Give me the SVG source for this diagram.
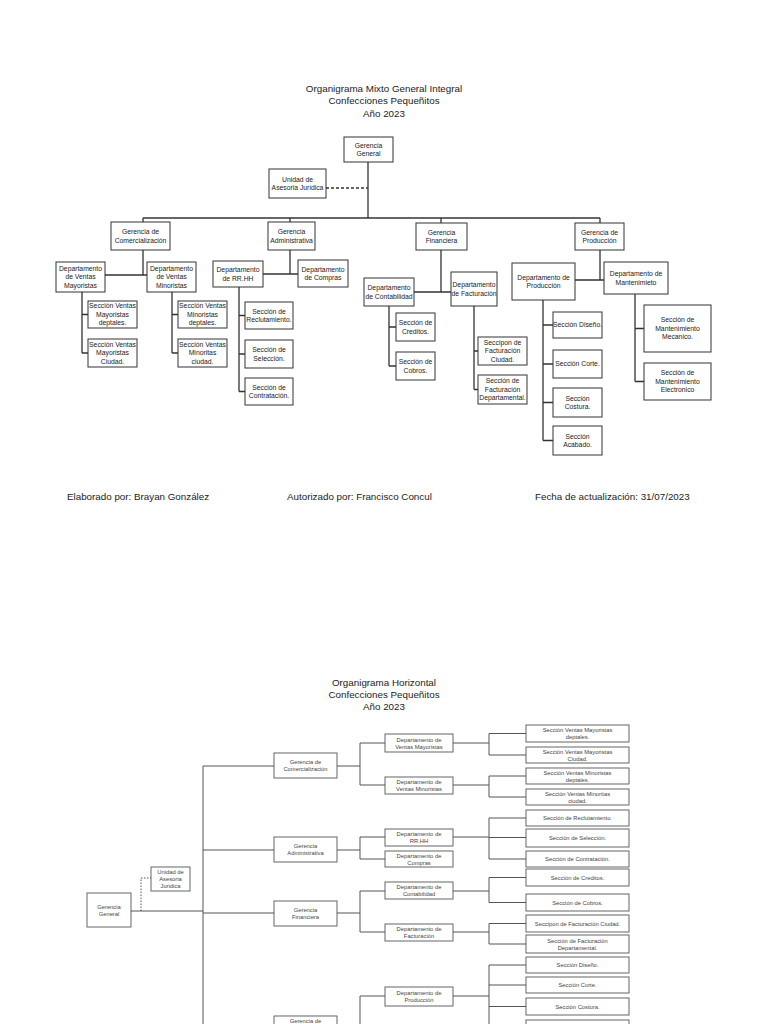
<svg xmlns="http://www.w3.org/2000/svg" width="768" height="1024" viewBox="0 0 768 1024">
<style>
.bg{fill:#fff}
.t{font-family:"Liberation Sans",Arial,sans-serif;fill:#222;text-anchor:middle}
.title{font-size:9.8px}
.foot{font-size:9.8px;text-anchor:start}
.n1 rect{fill:#fff;stroke:#333;stroke-width:1}
.n1 text{font-family:"Liberation Sans",Arial,sans-serif;font-size:6.8px;fill:#222;text-anchor:middle}
.n2 rect{fill:#fff;stroke:#555;stroke-width:0.9}
.n2 text{font-family:"Liberation Sans",Arial,sans-serif;font-size:5.8px;fill:#444;text-anchor:middle}
.c1 path{fill:none;stroke:#333;stroke-width:1.3}
.c2 path{fill:none;stroke:#555;stroke-width:1}
.dash1{stroke-dasharray:3 2}
.dot2{stroke-dasharray:1.5 1.5}
</style>
<rect class="bg" x="0" y="0" width="768" height="1024"/>

<g id="title-top">
<text class="t title" x="384" y="92">Organigrama Mixto General Integral</text>
<text class="t title" x="384" y="104">Confecciones Pequeñitos</text>
<text class="t title" x="384" y="117">Año 2023</text>
</g>

<g id="connectors-top" class="c1">
<path d="M368 162V218"/>
<path class="dash1" d="M326 188H368"/>
<path d="M143 218H600"/>
<path d="M143 218V275M105 275H147"/>
<path d="M82 292V353M82 314.5H88M82 353H88"/>
<path d="M172 292V353M172 314.5H178M172 353H178"/>
<path d="M290 218V274M263 274H298"/>
<path d="M239 287V391.5M239 315.5H245M239 354H245M239 391.5H245"/>
<path d="M441 218V292M414 292H451"/>
<path d="M389 306V366M389 327H396M389 366H396"/>
<path d="M474 306V389.5M474 351H478M474 389.5H478"/>
<path d="M600 218V280M575 280H604"/>
<path d="M543 300V440.5M543 325H553M543 364H553M543 402.5H553M543 440.5H553"/>
<path d="M635 294V381.5M635 328.5H644M635 381.5H644"/>
</g>

<g id="top-gg" class="n1"><rect x="344" y="137" width="49" height="25"/><text x="368.5" y="147.5">Gerencia</text><text x="368.5" y="156">General</text></g>
<g id="top-uaj" class="n1"><rect x="269" y="169" width="57" height="29"/><text x="297.5" y="181.5">Unidad de</text><text x="297.5" y="190">Asesoria Juridica</text></g>
<g id="top-gc" class="n1"><rect x="111" y="222" width="59" height="28"/><text x="140.5" y="234">Gerencia de</text><text x="140.5" y="242.5">Comercialización</text></g>
<g id="top-ga" class="n1"><rect x="268" y="222" width="47" height="28"/><text x="291.5" y="234">Gerencia</text><text x="291.5" y="242.5">Administrativa</text></g>
<g id="top-gf" class="n1"><rect x="416" y="223" width="51" height="27"/><text x="441.5" y="234.5">Gerencia</text><text x="441.5" y="243">Financiera</text></g>
<g id="top-gp" class="n1"><rect x="575" y="223" width="49" height="27"/><text x="599.5" y="234.5">Gerencia de</text><text x="599.5" y="243">Producción</text></g>

<g id="top-dvmay" class="n1"><rect x="56" y="262" width="49" height="30"/><text x="80.5" y="270.8">Departamento</text><text x="80.5" y="279.3">de Ventas</text><text x="80.5" y="287.8">Mayoristas</text></g>
<g id="top-dvmin" class="n1"><rect x="147" y="262" width="49" height="30"/><text x="171.5" y="270.8">Departamento</text><text x="171.5" y="279.3">de Ventas</text><text x="171.5" y="287.8">Minoristas</text></g>
<g id="top-svmd" class="n1"><rect x="88" y="301" width="49" height="27"/><text x="112.5" y="308.3">Sección Ventas</text><text x="112.5" y="316.8">Mayoristas</text><text x="112.5" y="325.3">deptales.</text></g>
<g id="top-svmc" class="n1"><rect x="88" y="339" width="49" height="28"/><text x="112.5" y="346.8">Sección Ventas</text><text x="112.5" y="355.3">Mayoristas</text><text x="112.5" y="363.8">Ciudad.</text></g>
<g id="top-svnd" class="n1"><rect x="178" y="301" width="49" height="27"/><text x="202.5" y="308.3">Sección Ventas</text><text x="202.5" y="316.8">Minoristas</text><text x="202.5" y="325.3">deptales.</text></g>
<g id="top-svnc" class="n1"><rect x="178" y="339" width="49" height="28"/><text x="202.5" y="346.8">Sección Ventas</text><text x="202.5" y="355.3">Minoritas</text><text x="202.5" y="363.8">ciudad.</text></g>

<g id="top-rrhh" class="n1"><rect x="213" y="261" width="50" height="26"/><text x="238" y="272">Departamento</text><text x="238" y="280.5">de RR.HH</text></g>
<g id="top-compras" class="n1"><rect x="298" y="260" width="50" height="27"/><text x="323" y="271.5">Departamento</text><text x="323" y="280">de Compras</text></g>
<g id="top-reclut" class="n1"><rect x="245" y="302" width="48" height="27"/><text x="269" y="313.5">Sección de</text><text x="269" y="322">Reclutamiento.</text></g>
<g id="top-selec" class="n1"><rect x="245" y="340" width="48" height="28"/><text x="269" y="352">Sección de</text><text x="269" y="360.5">Selección.</text></g>
<g id="top-contrat" class="n1"><rect x="245" y="378" width="48" height="27"/><text x="269" y="389.5">Sección de</text><text x="269" y="398">Contratación.</text></g>

<g id="top-conta" class="n1"><rect x="364" y="278" width="50" height="28"/><text x="389" y="290">Departamento</text><text x="389" y="298.5" font-size="6.5">de Contabilidad</text></g>
<g id="top-fact" class="n1"><rect x="451" y="272" width="46" height="34"/><text x="474" y="287">Departamento</text><text x="474" y="295.5">de Facturación</text></g>
<g id="top-cred" class="n1"><rect x="396" y="313" width="39" height="28"/><text x="415.5" y="325">Sección de</text><text x="415.5" y="333.5">Creditos.</text></g>
<g id="top-cobros" class="n1"><rect x="396" y="352" width="39" height="28"/><text x="415.5" y="364">Sección de</text><text x="415.5" y="372.5">Cobros.</text></g>
<g id="top-factc" class="n1"><rect x="478" y="337" width="49" height="28"/><text x="502.5" y="344.8">Seccipon de</text><text x="502.5" y="353.3">Facturación</text><text x="502.5" y="361.8">Ciudad.</text></g>
<g id="top-factd" class="n1"><rect x="478" y="375" width="49" height="29"/><text x="502.5" y="383.3">Sección de</text><text x="502.5" y="391.8">Facturación</text><text x="502.5" y="400.3">Departamental.</text></g>

<g id="top-dprod" class="n1"><rect x="512" y="263" width="63" height="37"/><text x="543.5" y="279.5">Departamento de</text><text x="543.5" y="288">Producción</text></g>
<g id="top-dmant" class="n1"><rect x="604" y="262" width="64" height="32"/><text x="636" y="276">Departamento de</text><text x="636" y="284.5">Mantenimieto</text></g>
<g id="top-diseno" class="n1"><rect x="553" y="312" width="49" height="26"/><text x="577.5" y="327.3">Sección Diseño.</text></g>
<g id="top-corte" class="n1"><rect x="553" y="350" width="49" height="28"/><text x="577.5" y="366.3">Sección Corte.</text></g>
<g id="top-costura" class="n1"><rect x="553" y="388" width="49" height="29"/><text x="577.5" y="400.5">Sección</text><text x="577.5" y="409">Costura.</text></g>
<g id="top-acabado" class="n1"><rect x="553" y="426" width="49" height="29"/><text x="577.5" y="438.5">Sección</text><text x="577.5" y="447">Acabado.</text></g>
<g id="top-mmec" class="n1"><rect x="644" y="305" width="67" height="47"/><text x="677.5" y="322.3">Sección de</text><text x="677.5" y="330.8">Mantenimiento</text><text x="677.5" y="339.3">Mecanico.</text></g>
<g id="top-melec" class="n1"><rect x="644" y="363" width="67" height="37"/><text x="677.5" y="375.3">Sección de</text><text x="677.5" y="383.8">Mantenimiento</text><text x="677.5" y="392.3">Electronico</text></g>

<g id="footer">
<text class="t foot" x="67" y="500">Elaborado por: Brayan González</text>
<text class="t foot" x="287" y="500">Autorizado por: Francisco Concul</text>
<text class="t foot" x="535" y="500">Fecha de actualización: 31/07/2023</text>
</g>

<g id="title-bottom">
<text class="t title" x="384" y="686">Organigrama Horizontal</text>
<text class="t title" x="384" y="698">Confecciones Pequeñitos</text>
<text class="t title" x="384" y="710">Año 2023</text>
</g>

<g id="connectors-bottom" class="c2">
<path d="M131 911H203"/>
<path class="dot2" d="M141 911V878H151"/>
<path d="M203 766V1030"/>
<path d="M203 766H274M203 850H274M203 913H274M203 1028H274"/>
<path d="M337 766H360M360 743V785M360 743H385M360 785H385"/>
<path d="M337 850H360M360 837V859M360 837H385M360 859H385"/>
<path d="M337 913H360M360 891V932M360 891H385M360 932H385"/>
<path d="M337 1028H360M360 996V1030M360 996H385"/>
<path d="M453 743H489M489 733.5V755M489 733.5H526M489 755H526"/>
<path d="M453 785H489M489 776V797M489 776H526M489 797H526"/>
<path d="M453 837H489M489 818V859M489 818H526M489 837.5H526M489 859H526"/>
<path d="M453 891H489M489 877.5V902.5M489 877.5H526M489 902.5H526"/>
<path d="M453 932H489M489 923.5V944M489 923.5H526M489 944H526"/>
<path d="M453 996H489M489 965V1030M489 965H526M489 985H526M489 1006.5H526M489 1028H526"/>
</g>

<g id="b-gg" class="n2"><rect x="87" y="893" width="44" height="34"/><text x="109" y="908.5">Gerencia</text><text x="109" y="915.5">General</text></g>
<g id="b-uaj" class="n2"><rect x="151" y="867" width="39" height="24"/><text x="170.5" y="874">Unidad de</text><text x="170.5" y="881">Asesoria</text><text x="170.5" y="888">Juridica</text></g>
<g id="b-gc" class="n2"><rect x="274" y="753" width="63" height="25"/><text x="305.5" y="764">Gerencia de</text><text x="305.5" y="771">Comercialización</text></g>
<g id="b-ga" class="n2"><rect x="274" y="837" width="63" height="25"/><text x="305.5" y="848">Gerencia</text><text x="305.5" y="855">Administrativa</text></g>
<g id="b-gf" class="n2"><rect x="274" y="901" width="63" height="25"/><text x="305.5" y="912">Gerencia</text><text x="305.5" y="919">Financiera</text></g>
<g id="b-gp" class="n2"><rect x="274" y="1016" width="63" height="25"/><text x="305.5" y="1023">Gerencia de</text></g>

<g id="b-dvmay" class="n2"><rect x="385" y="734" width="68" height="18"/><text x="419" y="741.5">Departamento de</text><text x="419" y="748.5">Ventas Mayoristas</text></g>
<g id="b-dvmin" class="n2"><rect x="385" y="777" width="68" height="17"/><text x="419" y="784">Departamento de</text><text x="419" y="791">Ventas Minoristas</text></g>
<g id="b-rrhh" class="n2"><rect x="385" y="829" width="68" height="17"/><text x="419" y="836">Departamento de</text><text x="419" y="843">RR.HH</text></g>
<g id="b-compras" class="n2"><rect x="385" y="851" width="68" height="16"/><text x="419" y="857.5">Departamento de</text><text x="419" y="864.5">Compras</text></g>
<g id="b-conta" class="n2"><rect x="385" y="882" width="68" height="17"/><text x="419" y="889">Departamento de</text><text x="419" y="896">Contabilidad</text></g>
<g id="b-fact" class="n2"><rect x="385" y="924" width="68" height="17"/><text x="419" y="931">Departamento de</text><text x="419" y="938">Facturación</text></g>
<g id="b-dprod" class="n2"><rect x="385" y="987" width="68" height="19"/><text x="419" y="995">Departamento de</text><text x="419" y="1002">Producción</text></g>

<g id="b-svmd" class="n2"><rect x="526" y="725" width="103" height="17"/><text x="577.5" y="732">Sección Ventas  Mayoristas</text><text x="577.5" y="739">deptales.</text></g>
<g id="b-svmc" class="n2"><rect x="526" y="747" width="103" height="16"/><text x="577.5" y="753.5">Sección Ventas Mayoristas</text><text x="577.5" y="760.5">Ciudad.</text></g>
<g id="b-svnd" class="n2"><rect x="526" y="768" width="103" height="16"/><text x="577.5" y="774.5">Sección Ventas Minoristas</text><text x="577.5" y="781.5">deptales.</text></g>
<g id="b-svnc" class="n2"><rect x="526" y="789" width="103" height="16"/><text x="577.5" y="795.5">Sección Ventas Minoritas</text><text x="577.5" y="802.5">ciudad.</text></g>
<g id="b-reclut" class="n2"><rect x="526" y="810" width="103" height="16"/><text x="577.5" y="820">Sección de Reclutamiento.</text></g>
<g id="b-selec" class="n2"><rect x="526" y="829" width="103" height="18"/><text x="577.5" y="839.5">Sección de Selección.</text></g>
<g id="b-contrat" class="n2"><rect x="526" y="851" width="103" height="16"/><text x="577.5" y="861">Sección de Contratación.</text></g>
<g id="b-cred" class="n2"><rect x="526" y="869" width="103" height="17"/><text x="577.5" y="879.5">Sección de Creditos.</text></g>
<g id="b-cobros" class="n2"><rect x="526" y="894" width="103" height="17"/><text x="577.5" y="904.5">Sección de Cobros.</text></g>
<g id="b-factc" class="n2"><rect x="526" y="915" width="103" height="17"/><text x="577.5" y="925.5">Seccipon de Facturación Ciudad.</text></g>
<g id="b-factd" class="n2"><rect x="526" y="935" width="103" height="18"/><text x="577.5" y="942.5">Sección de Facturación</text><text x="577.5" y="949.5">Departamental.</text></g>
<g id="b-diseno" class="n2"><rect x="526" y="957" width="103" height="16"/><text x="577.5" y="967">Sección Diseño.</text></g>
<g id="b-corte" class="n2"><rect x="526" y="977" width="103" height="16"/><text x="577.5" y="987">Sección Corte.</text></g>
<g id="b-costura" class="n2"><rect x="526" y="998" width="103" height="17"/><text x="577.5" y="1008.5">Sección Costura.</text></g>
<g id="b-acabado" class="n2"><rect x="526" y="1020" width="103" height="17"/></g>
</svg>
